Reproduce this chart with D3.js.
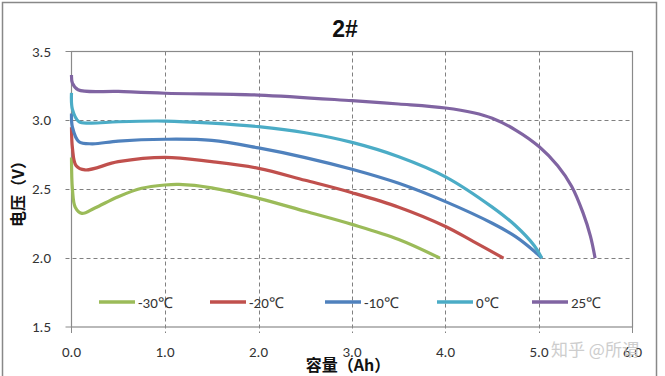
<!DOCTYPE html>
<html><head><meta charset="utf-8">
<script src="https://cdn.jsdelivr.net/npm/d3@7"></script>
<style>body{margin:0;background:#fff}svg{display:block}</style>
</head><body>
<script>
const seriesNames = ["-30℃","-20℃","-10℃","0℃","25℃"];
const seriesColors = ["#9BBB59","#C0504D","#4F81BD","#4BACC6","#8064A2"];
const xTicks = [0,1,2,3,4,5,6];
const yTicks = [1.5,2.0,2.5,3.0,3.5];
const s30 = [[0,2.73],[0.01,2.5],[0.04,2.37],[0.11,2.325],[0.25,2.364],[0.5,2.446],[0.75,2.507],[1.0,2.531],[1.15,2.535],[1.5,2.51],[2.0,2.434],[2.5,2.34],[3.0,2.245],[3.5,2.135],[3.94,2.0]];
const s20 = [[0,2.95],[0.01,2.8],[0.05,2.67],[0.145,2.64],[0.5,2.70],[1.0,2.732],[1.5,2.70],[2.0,2.652],[2.5,2.565],[3.0,2.475],[3.5,2.37],[4.0,2.23],[4.3,2.12],[4.62,2.0]];
const s10 = [[0,3.05],[0.01,2.95],[0.08,2.845],[0.22,2.83],[0.5,2.85],[1.0,2.863],[1.5,2.855],[2.0,2.80],[2.5,2.73],[3.0,2.645],[3.5,2.543],[4.0,2.41],[4.5,2.253],[4.75,2.156],[4.95,2.05],[5.03,2.0]];
const s0 = [[0,3.2],[0.01,3.08],[0.08,2.99],[0.2,2.98],[0.5,2.99],[1.0,2.995],[1.5,2.98],[2.0,2.954],[2.5,2.91],[3.0,2.84],[3.5,2.736],[4.0,2.59],[4.5,2.37],[4.75,2.235],[4.95,2.09],[5.03,2.0]];
const s25 = [[0,3.33],[0.01,3.27],[0.07,3.222],[0.5,3.21],[1.0,3.197],[2.0,3.184],[3.0,3.143],[3.5,3.119],[4.0,3.09],[4.3,3.055],[4.5,3.015],[4.75,2.93],[5.0,2.81],[5.2,2.67],[5.35,2.52],[5.47,2.33],[5.55,2.16],[5.6,2.0]];
const allSeries = [s30,s20,s10,s0,s25];

const W=665,H=376;
const svg=d3.select("body").append("svg").attr("width",W).attr("height",H);
svg.append("rect").attr("x",2.5).attr("y",2.5).attr("width",654).attr("height",380).attr("fill","#fff").attr("stroke","#888").attr("stroke-width",1.5);

const x=d3.scaleLinear().domain([0,6]).range([71.5,632.5]);
const y=d3.scaleLinear().domain([1.5,3.5]).range([327,51.5]);
const font="Carlito, 'Liberation Sans', Arial, sans-serif";

const g=svg.append("g");
g.selectAll(".vg").data(xTicks.slice(1,-1)).join("line")
 .attr("x1",d=>Math.round(x(d))+0.5).attr("x2",d=>Math.round(x(d))+0.5)
 .attr("y1",y(3.5)).attr("y2",y(1.5)+6)
 .attr("stroke","#808080").attr("stroke-dasharray","4,3");
g.selectAll(".hg").data(yTicks.slice(1,-1)).join("line")
 .attr("y1",d=>Math.round(y(d))+0.5).attr("y2",d=>Math.round(y(d))+0.5)
 .attr("x1",x(0)-6).attr("x2",x(6))
 .attr("stroke","#808080").attr("stroke-dasharray","4,3");
svg.append("rect").attr("x",x(0)).attr("y",y(3.5)).attr("width",x(6)-x(0)).attr("height",y(1.5)-y(3.5))
 .attr("fill","none").attr("stroke","#8a8a8a").attr("stroke-width",1.2);
g.selectAll(".xt").data([0,6]).join("line").attr("x1",d=>x(d)).attr("x2",d=>x(d)).attr("y1",y(1.5)).attr("y2",y(1.5)+6).attr("stroke","#8a8a8a");
g.selectAll(".yt").data([1.5,3.5]).join("line").attr("y1",d=>y(d)).attr("y2",d=>y(d)).attr("x1",x(0)-6).attr("x2",x(0)).attr("stroke","#8a8a8a");

svg.selectAll(".xl").data(xTicks).join("text").attr("x",d=>x(d)).attr("y",357)
 .attr("text-anchor","middle").attr("font-family",font).attr("font-size",15).attr("fill","#333")
 .text(d=>d.toFixed(1));
svg.selectAll(".yl").data(yTicks).join("text").attr("x",51).attr("y",d=>y(d)+5)
 .attr("text-anchor","end").attr("font-family",font).attr("font-size",15).attr("fill","#333")
 .text(d=>d.toFixed(1));

const line=d3.line().x(d=>x(d[0])).y(d=>y(d[1])).curve(d3.curveCatmullRom.alpha(0.5));
svg.selectAll(".series").data(allSeries).join("path")
 .attr("d",line).attr("fill","none")
 .attr("stroke",(d,i)=>seriesColors[i]).attr("stroke-width",3.2).attr("stroke-linejoin","round");

const legX=[99,210,325,437,532];
const leg=svg.selectAll(".leg").data(seriesNames).join("g").attr("transform",(d,i)=>`translate(${legX[i]},302)`);
leg.append("line").attr("x1",0).attr("x2",36).attr("y1",0).attr("y2",0).attr("stroke",(d,i)=>seriesColors[i]).attr("stroke-width",3.5);
leg.append("text").attr("x",39).attr("y",5.5).attr("font-family",font).attr("font-size",15).attr("fill","#333").text(d=>d);

svg.append("text").attr("x",345).attr("y",37).attr("text-anchor","middle").attr("font-family","'Liberation Sans', Arial, sans-serif")
 .attr("font-weight","bold").attr("font-size",23).attr("fill","#111").text("2#");
svg.append("text").attr("x",348).attr("y",371).attr("text-anchor","middle").attr("font-family","'Noto Sans CJK SC', sans-serif")
 .attr("font-weight","bold").attr("font-size",16).attr("fill","#111").text("容量（Ah）");
svg.append("text").attr("transform","translate(24,190) rotate(-90)").attr("text-anchor","middle").attr("font-family","'Noto Sans CJK SC', sans-serif")
 .attr("font-weight","bold").attr("font-size",16).attr("fill","#111").text("电压（V）");

svg.append("text").attr("x",595).attr("y",356).attr("text-anchor","middle").attr("font-family","'Noto Sans CJK SC', sans-serif")
 .attr("font-size",17).attr("fill","#c8c8c8").attr("opacity",0.9).text("知乎 @所谓");
</script>
</body></html>
